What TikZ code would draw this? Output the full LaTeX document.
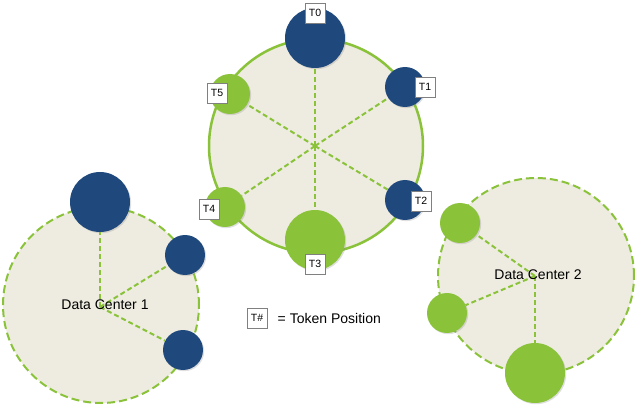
\documentclass[tikz,border=0pt]{standalone}
\usepackage{fontspec}
\setmainfont{Liberation Sans}
\usetikzlibrary{positioning,shadows}
\definecolor{Navy}{HTML}{1F497D}
\definecolor{Leaf}{HTML}{8AC23A}
\definecolor{Paper}{HTML}{EEECE1}
\definecolor{Frame}{HTML}{808080}

\begin{document}
\begin{tikzpicture}[x=1pt,y=-1pt,
    ring/.style={circle,draw=Leaf,fill=Paper,line width=2.5pt,minimum size=#1,inner sep=0pt},
    dcring/.style={ring=#1,line width=2pt,dash pattern=on 8pt off 4pt},
    tokbig/.style={circle,inner sep=0pt,minimum size=60pt,drop shadow={opacity=0.25,shadow xshift=1.2pt,shadow yshift=-1.2pt}},
    toksmall/.style={circle,inner sep=0pt,minimum size=40pt,drop shadow={opacity=0.25,shadow xshift=1.2pt,shadow yshift=-1.2pt}},
    navy/.style={fill=Navy},
    leaf/.style={fill=Leaf},
    tag/.style={rectangle,draw=Frame,fill=white,minimum size=20pt,inner sep=0pt,font=\fontsize{10.5}{12}\selectfont,drop shadow={opacity=0.3,shadow xshift=1pt,shadow yshift=-1pt}},
    spoke/.style={draw=Leaf,line width=2pt,dash pattern=on 5pt off 3pt},
    label/.style={font=\fontsize{14}{16}\selectfont}
]
\useasboundingbox (0,0) rectangle (638,409);

% token ring
\node[ring=214pt] (main) at (316,146) {};
\coordinate (mc) at (315,146);
\node[tokbig,navy] (t0) at (315,38) {};
\node[toksmall,navy] (t1) at (405,87) {};
\node[toksmall,navy] (t2) at (405,200) {};
\node[tokbig,leaf] (t3) at (315,240) {};
\node[toksmall,leaf] (t4) at (225,207) {};
\node[toksmall,leaf] (t5) at (230,94) {};
\draw[spoke] (mc) -- (t0);
\draw[spoke] (mc) -- (t1);
\draw[spoke] (mc) -- (t2);
\draw[spoke] (mc) -- (t3);
\draw[spoke] (mc) -- (t4);
\draw[spoke] (mc) -- (t5);
\node[tag] (l0) at (315,13) {T0};
\node[tag] (l1) at (425,87) {T1};
\node[tag] (l2) at (421,201) {T2};
\node[tag] (l3) at (315,264) {T3};
\node[tag] (l4) at (209,209) {T4};
\node[tag] (l5) at (217,93) {T5};

% data center 1
\node[dcring=196pt] (dc1) at (101,305) {};
\coordinate (c1) at (100,307);
\node[tokbig,navy] (a1) at (100,202) {};
\node[toksmall,navy] (a2) at (185,255) {};
\node[toksmall,navy] (a3) at (183,350) {};
\draw[spoke] (c1) -- (a1);
\draw[spoke] (c1) -- (a2);
\draw[spoke] (c1) -- (a3);
\node[label] (n1) at (105,305) {Data Center 1};

% data center 2
\node[dcring=196pt] (dc2) at (536,276) {};
\coordinate (c2) at (535,276);
\node[toksmall,leaf] (b1) at (460,223) {};
\node[toksmall,leaf] (b2) at (447,313) {};
\node[tokbig,leaf] (b3) at (535,373) {};
\draw[spoke] (c2) -- (b1);
\draw[spoke] (c2) -- (b2);
\draw[spoke] (c2) -- (b3);
\node[label] (n2) at (538,275) {Data Center 2};

% legend
\node[tag] (key) at (257,318) {T\#};
\node[label,right=7pt of key] (keytext) {= Token Position};
\end{tikzpicture}
\end{document}
